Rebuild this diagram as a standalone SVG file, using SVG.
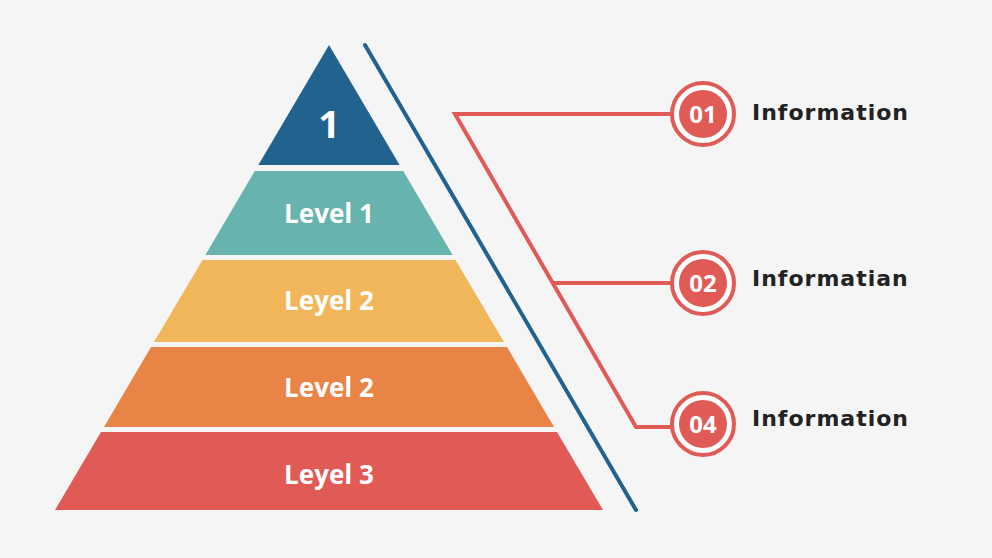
<svg xmlns="http://www.w3.org/2000/svg" width="992" height="558" viewBox="0 0 992 558">
<style>
.lv{font-family:"Open Sans","Liberation Sans",sans-serif;font-weight:bold;font-size:26px;fill:#fff;text-anchor:middle}
.num{font-family:"Open Sans","Liberation Sans",sans-serif;font-weight:bold;font-size:24px;fill:#fff;text-anchor:middle}
.info{font-family:"DejaVu Sans","Liberation Sans",sans-serif;font-weight:bold;font-size:22px;letter-spacing:1px;fill:#222}
.ring{fill:#fff;stroke:#e05a56;stroke-width:4}
.dot{fill:#e05a56}
.red{fill:none;stroke:#e05a56;stroke-width:4}
</style>
<rect width="992" height="558" fill="#f5f5f5"/>
<g id="top"><polygon points="329,45 399.6,165 258.4,165" fill="#22628f"/><text class="lv" x="329" y="138" style="font-size:38px">1</text></g>
<g id="level1"><polygon points="254.8,171 403.2,171 452.6,255 205.4,255" fill="#67b3ad"/><text class="lv" x="329" y="223">Level 1</text></g>
<g id="level2a"><polygon points="202.5,260 455.5,260 504,342 154,342" fill="#f2b65a"/><text class="lv" x="329" y="310">Leyel 2</text></g>
<g id="level2b"><polygon points="151,347 507,347 554,427 104,427" fill="#e88446"/><text class="lv" x="329" y="397">Level 2</text></g>
<g id="level3"><polygon points="101,432 557,432 603,510 55,510" fill="#e05a56"/><text class="lv" x="329" y="484">Leyel 3</text></g>
<g id="connectors">
<line x1="365" y1="45" x2="636" y2="510" stroke="#22628f" stroke-width="4" stroke-linecap="round"/>
<path class="red" d="M671,114 H455 L636,427 H671"/>
<path class="red" d="M553,283 H671"/>
</g>
<g id="c01"><circle class="ring" cx="703" cy="114" r="31"/><circle class="dot" cx="703" cy="114" r="24"/><text class="num" x="703" y="123">01</text><text class="info" x="752" y="120">Information</text></g>
<g id="c02"><circle class="ring" cx="703" cy="283" r="31"/><circle class="dot" cx="703" cy="283" r="24"/><text class="num" x="703" y="292">02</text><text class="info" x="752" y="286">Informatian</text></g>
<g id="c04"><circle class="ring" cx="703" cy="424" r="31"/><circle class="dot" cx="703" cy="424" r="24"/><text class="num" x="703" y="433">04</text><text class="info" x="752" y="426">Information</text></g>
</svg>
